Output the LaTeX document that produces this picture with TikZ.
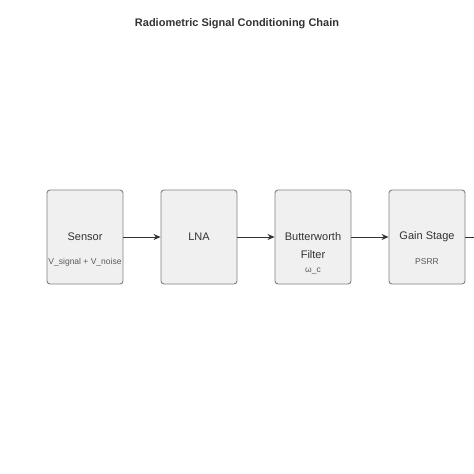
\documentclass[tikz,border=0pt]{standalone}
\usepackage{fontspec}
\setmainfont{Liberation Sans}
\usetikzlibrary{arrows.meta}
\begin{document}
\begin{tikzpicture}[x=1pt,y=-1pt,
  box/.style={draw=black!50,fill=black!6,rounded corners=3pt,line width=0.9pt,minimum width=76pt,minimum height=94pt,inner sep=0pt},
  lab/.style={font=\fontsize{11}{13}\selectfont,text=black!80},
  sub/.style={font=\fontsize{8.5}{10}\selectfont,text=black!65},
  arr/.style={-{Stealth[length=7pt,width=6pt]},line width=1pt,draw=black!80}]
\useasboundingbox (0,0) rectangle (474,474);
\node[font=\bfseries\fontsize{11}{13}\selectfont,text=black!80] (title) at (237,24) {Radiometric Signal Conditioning Chain};
\node[box] (s) at (85,237) {};
\node[box] (l) at (199,237) {};
\node[box] (b) at (313,237) {};
\node[box] (g) at (427,237) {};
\node[lab] at (85,237) {Sensor};
\node[sub] at (85,262) {V\_signal + V\_noise};
\node[lab] at (199,237) {LNA};
\node[lab] at (313,237) {Butterworth};
\node[lab] at (313,255) {Filter};
\node[sub] at (313,271) {ω\_c};
\node[lab] at (427,237) {Gain Stage};
\node[sub] at (427,262) {PSRR};
\coordinate (e) at (476,237);
\draw[arr] (s) -- (l);
\draw[arr] (l) -- (b);
\draw[arr] (b) -- (g);
\draw[line width=1pt,draw=black!80] (g) -- (e);
\end{tikzpicture}
\end{document}
